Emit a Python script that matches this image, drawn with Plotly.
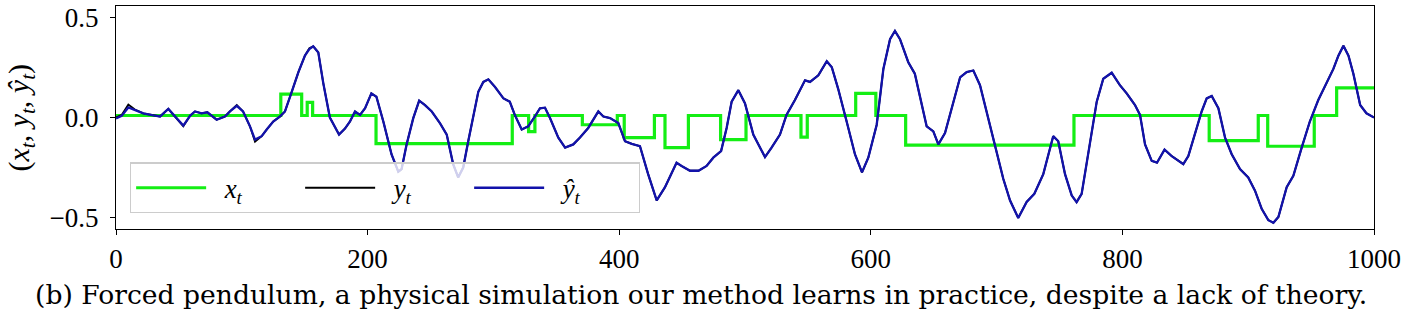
import plotly.graph_objects as go

# ---- data ----
t_y = [0, 4.5, 9.8, 15, 21.7, 29.7, 35, 41.6, 47, 53.5, 59, 62.8, 68, 72.6, 80, 86.6, 90.6, 96, 101,
       106.5, 110.5, 115.8, 119.8, 125, 130.4, 134.3, 139.7, 145, 150.2, 153.7, 156.8, 160.8, 164.8,
       170, 177.3, 182, 186, 190, 194, 198, 203, 207, 212.5, 219, 224.4, 227, 231, 236.3, 241, 245.6,
       251, 257.5, 262.9, 268, 272, 276, 280, 284, 288, 292, 296, 301.3, 308, 313, 317, 322.5, 327.7,
       333, 337, 341, 345, 351.6, 357, 363.5, 368.8, 375.4, 383.4, 387.4, 392.7, 399.3, 404.6, 410,
       416.5, 423, 429.8, 436.4, 445.6, 449.6, 456.3, 463, 469.5, 474.8, 481, 485.4, 489.4, 494.7,
       500, 506.6, 515.9, 521, 527.8, 533, 539.7, 547.7, 551.7, 558.3, 565, 569, 574, 580.8, 587.4,
       593, 598, 604.7, 610, 615.3, 619.2, 623.2, 629.8, 635, 639, 644.4, 649.7, 653.7, 659, 664.3,
       671, 676.2, 681.5, 686.8, 692, 698.7, 705.3, 710.7, 717.2, 723.9, 730, 737.1, 742.4, 745, 749,
       754.4, 759.7, 763.6, 767.6, 774.2, 779.6, 784.8, 791.5, 798, 803.4, 810, 814, 818, 823.3,
       827.5, 833.5, 839.2, 843, 848.4, 852.4, 857.7, 863, 867, 871, 876.3, 881.6, 886.9, 893.5, 900,
       905.4, 910.7, 916, 920, 924, 930.6, 935.9, 942.5, 949, 955.7, 962.4, 967.7, 971.7, 975.7,
       979.7, 983.6, 989, 994, 1000]

y_t = [0.0, 0.013, 0.065, 0.04, 0.021, 0.01, 0.005, 0.043, 0.005, -0.044, 0.01, 0.03, 0.021, 0.026,
       -0.011, 0.005, 0.03, 0.062, 0.03, -0.044, -0.12, -0.093, -0.06, -0.02, 0.005, 0.03, 0.128,
       0.226, 0.308, 0.345, 0.354, 0.324, 0.17, 0.0, -0.085, -0.055, -0.02, 0.03, 0.013, 0.046, 0.12,
       0.103, -0.02, -0.183, -0.27, -0.257, -0.134, -0.003, 0.084, 0.062, 0.03, -0.028, -0.085,
       -0.232, -0.298, -0.249, -0.118, 0.013, 0.128, 0.177, 0.19, 0.152, 0.095, 0.079, 0.013, -0.06,
       -0.044, 0.005, 0.046, 0.049, -0.003, -0.1, -0.15, -0.134, -0.1, -0.052, 0.03, 0.005, -0.003,
       -0.028, -0.118, -0.131, -0.143, -0.282, -0.413, -0.347, -0.225, -0.241, -0.265, -0.265,
       -0.241, -0.2, -0.167, -0.052, 0.079, 0.136, 0.07, -0.085, -0.197, -0.151, -0.085, 0.013,
       0.087, 0.185, 0.177, 0.21, 0.28, 0.25, 0.144, -0.02, -0.183, -0.273, -0.2, -0.036, 0.242,
       0.39, 0.431, 0.39, 0.275, 0.218, 0.112, -0.044, -0.069, -0.134, -0.077, 0.046, 0.2, 0.226,
       0.234, 0.161, 0.03, -0.15, -0.305, -0.413, -0.5, -0.42, -0.38, -0.282, -0.15, -0.093, -0.118,
       -0.282, -0.388, -0.421, -0.38, -0.134, 0.079, 0.193, 0.223, 0.161, 0.12, 0.062, 0.013,
       -0.134, -0.216, -0.225, -0.16, -0.192, -0.208, -0.232, -0.192, -0.085, 0.03, 0.095, 0.107,
       0.046, -0.1, -0.183, -0.257, -0.298, -0.364, -0.454, -0.511, -0.524, -0.495, -0.347, -0.29,
       -0.15, -0.02, 0.087, 0.177, 0.242, 0.308, 0.357, 0.308, 0.218, 0.062, 0.021, 0.0]

yhat_t = [-0.005, 0.008, 0.05, 0.038, 0.021, 0.01, 0.005, 0.043, 0.005, -0.04, 0.01, 0.03, 0.021,
          0.026, -0.011, 0.005, 0.03, 0.058, 0.03, -0.044, -0.11, -0.093, -0.06, -0.02, 0.005, 0.03,
          0.128, 0.226, 0.308, 0.34, 0.354, 0.324, 0.17, 0.0, -0.085, -0.055, -0.02, 0.03, 0.013,
          0.046, 0.12, 0.103, -0.02, -0.183, -0.27, -0.257, -0.134, -0.003, 0.084, 0.062, 0.03,
          -0.028, -0.085, -0.232, -0.298, -0.249, -0.118, 0.013, 0.128, 0.177, 0.19, 0.152, 0.095,
          0.079, 0.013, -0.06, -0.044, 0.005, 0.046, 0.049, -0.003, -0.1, -0.15, -0.134, -0.1,
          -0.052, 0.03, 0.005, -0.003, -0.028, -0.118, -0.131, -0.143, -0.282, -0.413, -0.347,
          -0.225, -0.241, -0.265, -0.265, -0.241, -0.2, -0.167, -0.052, 0.079, 0.136, 0.07, -0.085,
          -0.197, -0.151, -0.085, 0.013, 0.087, 0.185, 0.177, 0.21, 0.28, 0.25, 0.144, -0.02,
          -0.183, -0.273, -0.2, -0.036, 0.242, 0.39, 0.431, 0.39, 0.275, 0.218, 0.112, -0.044,
          -0.069, -0.134, -0.077, 0.046, 0.2, 0.226, 0.234, 0.161, 0.03, -0.15, -0.305, -0.413,
          -0.5, -0.42, -0.38, -0.282, -0.15, -0.093, -0.118, -0.282, -0.388, -0.421, -0.38, -0.134,
          0.079, 0.193, 0.223, 0.161, 0.12, 0.062, 0.013, -0.134, -0.216, -0.225, -0.16, -0.192,
          -0.208, -0.232, -0.192, -0.085, 0.03, 0.095, 0.107, 0.046, -0.1, -0.183, -0.257, -0.298,
          -0.364, -0.454, -0.511, -0.524, -0.495, -0.347, -0.29, -0.15, -0.02, 0.087, 0.177, 0.242,
          0.308, 0.357, 0.308, 0.218, 0.062, 0.021, 0.0]

# piecewise-constant input x_t: change times and levels
t_x = [0, 131, 147.6, 152, 156.3, 206.7, 315, 328, 333, 370.7, 398.5, 404, 428, 436.4, 455,
       480.6, 500.8, 544.5, 549.5, 588, 604, 627.7, 761.5, 869, 908, 915.5, 952.5, 970.3, 1000]
x_t = [0.01, 0.116, 0.01, 0.075, 0.01, -0.13, 0.01, -0.07, 0.01, -0.036, 0.01, -0.10, 0.01,
       -0.15, 0.01, -0.11, 0.01, -0.098, 0.01, 0.12, 0.01, -0.138, 0.01, -0.115, 0.01, -0.143,
       0.01, 0.147, 0.147]

x_ticks = [0, 200, 400, 600, 800, 1000]
y_ticks = [-0.5, 0.0, 0.5]
y_ticktext = ["\u22120.5", "0.0", "0.5"]

legend_names = ["  <i>x</i><sub><i>t</i></sub>", "  <i>y</i><sub><i>t</i></sub>", "  <i>\u0177</i><sub><i>t</i></sub>"]
y_title = "(<i>x</i><sub><i>t</i></sub>, <i>y</i><sub><i>t</i></sub>, <i>\u0177</i><sub><i>t</i></sub>)"
caption = "(b) Forced pendulum, a physical simulation our method learns in practice, despite a lack of theory."

FONT = "Liberation Serif"

fig = go.Figure()
fig.add_trace(go.Scatter(x=t_x, y=x_t, mode="lines", line=dict(color="#14ee14", width=3.2, shape="hv"),
                         name=legend_names[0]))
fig.add_trace(go.Scatter(x=t_y, y=y_t, mode="lines", line=dict(color="black", width=1.8),
                         name=legend_names[1]))
fig.add_trace(go.Scatter(x=t_y, y=yhat_t, mode="lines", line=dict(color="#1212aa", width=2.3),
                         name=legend_names[2]))

axis_common = dict(showgrid=False, zeroline=False, showline=True, linecolor="black", linewidth=1.3,
                   mirror=True, ticks="outside", ticklen=5, tickwidth=1.2, tickcolor="black",
                   ticklabeloverflow="allow",
                   tickfont=dict(family=FONT, size=27, color="black"))

fig.update_layout(
    width=1420, height=320,
    margin=dict(l=116, r=46, t=3, b=91),
    paper_bgcolor="white", plot_bgcolor="white",
    showlegend=True,
    legend=dict(orientation="h", x=0.011, y=0.07, xanchor="left", yanchor="bottom",
                bgcolor="rgba(255,255,255,0.8)", bordercolor="#cccccc", borderwidth=1.3,
                font=dict(family=FONT, size=27, color="black"),
                itemwidth=70, entrywidth=84, entrywidthmode="pixels"),
    xaxis=dict(range=[0, 1000], tickvals=x_ticks, **axis_common),
    yaxis=dict(range=[-0.555, 0.555], tickvals=y_ticks, ticktext=y_ticktext,
               ticklabelstandoff=6, **axis_common),
)

fig.add_annotation(text=y_title, xref="paper", yref="paper", x=-0.0763, y=0.5, textangle=-90,
                   showarrow=False, xanchor="center", yanchor="middle",
                   font=dict(family=FONT, size=30, color="black"))
fig.add_annotation(text=caption, xref="paper", yref="paper", x=0.4652, y=-0.292, showarrow=False,
                   xanchor="center", yanchor="middle",
                   font=dict(family="DejaVu Serif", size=26.6, color="black"))

fig.write_html("out.html", config={"displayModeBar": False},
               post_script="document.body.style.margin='0';")
